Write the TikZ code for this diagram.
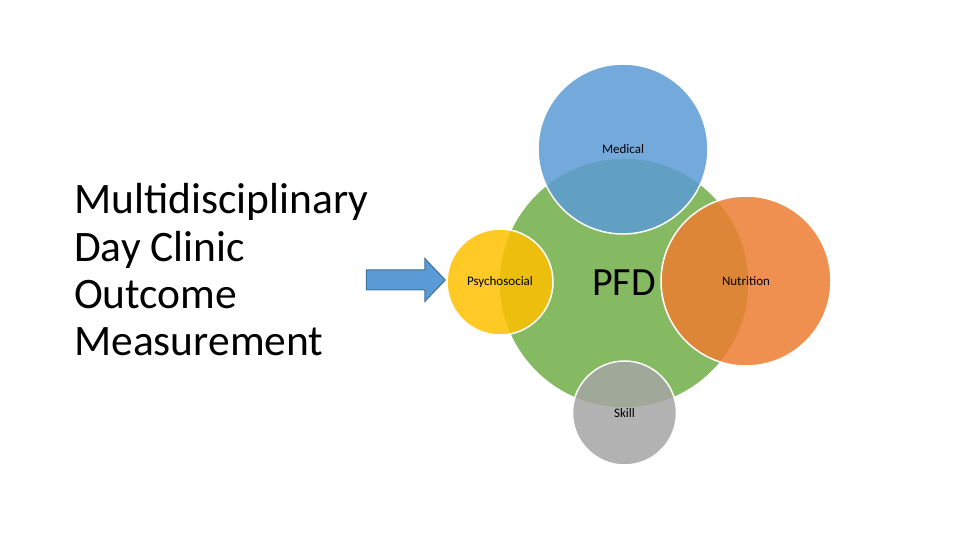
\documentclass[tikz,border=0pt]{standalone}
\usepackage{fontspec}
\setmainfont{Carlito}
\usepackage{tikz}
\usetikzlibrary{shapes.arrows}

\definecolor{pfdgreen}{HTML}{70AD47}
\definecolor{medblue}{HTML}{5B9BD5}
\definecolor{psyyellow}{HTML}{FFC000}
\definecolor{nutorange}{HTML}{ED7D31}
\definecolor{skillgray}{HTML}{A5A5A5}
\definecolor{arrowedge}{HTML}{41719C}

\begin{document}
\begin{tikzpicture}[x=1pt, y=1pt,
    bubble/.style={circle, draw=white, line width=1.5pt, fill opacity=0.85, text opacity=1, inner sep=0pt, font=\fontsize{13}{15}\selectfont},
    title/.style={anchor=west, align=left, inner sep=0pt, font=\fontsize{43.5}{47.3}\selectfont},
    bigarrow/.style={single arrow, draw=arrowedge, fill=medblue, line width=1pt, inner xsep=0pt, inner ysep=9.5pt, minimum height=79pt, single arrow head extend=11.5pt, single arrow tip angle=93},
]
\useasboundingbox (0,0) rectangle (960,540);

% === TITLE ===
\node[title] (title) at (74,270) {Multidisciplinary\\Day Clinic\\Outcome\\Measurement};

% === ARROW ===
\node[bigarrow] (arrow) at (401,260) {};

% === CENTRE ===
\node[bubble, fill=pfdgreen, minimum size=250pt, font=\fontsize{40}{44}\selectfont] (pfd) at (624,257) {PFD};

% === OUTER CIRCLES ===
\node[bubble, fill=medblue,   minimum size=170pt] (medical) at (623,391) {Medical};
\node[bubble, fill=psyyellow, minimum size=106pt] (psycho)  at (500,258) {Psychosocial};
\node[bubble, fill=nutorange, minimum size=170pt] (nutrition) at (746,259) {Nutrition};
\node[bubble, fill=skillgray, minimum size=104pt] (skill)   at (624.5,127) {Skill};

\end{tikzpicture}
\end{document}
